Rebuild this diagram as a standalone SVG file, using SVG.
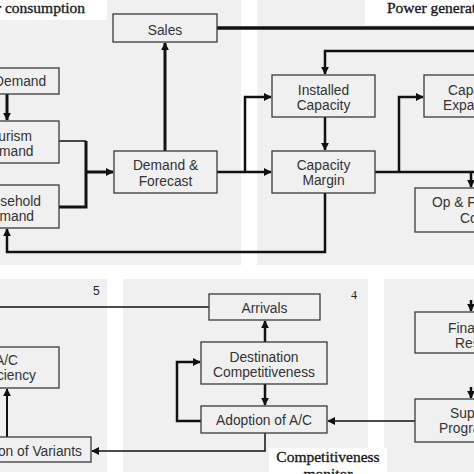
<svg xmlns="http://www.w3.org/2000/svg" width="474" height="474" viewBox="0 0 474 474">
<defs>
<style>
.panel{fill:#f0f0f0;stroke:none}
.box{fill:#f0f0f0;stroke:#3a3a3a;stroke-width:1.3}
.lbl{font-family:"Liberation Sans",Arial,sans-serif;font-size:13.8px;fill:#333}
.mid{text-anchor:middle}
.end{text-anchor:end}
.ttl{font-family:"Liberation Serif","Times New Roman",serif;font-size:15.5px;fill:#1a1a1a;stroke:#1a1a1a;stroke-width:0.35}
.thick{fill:none;stroke:#111;stroke-width:3}
.med{fill:none;stroke:#111;stroke-width:2.5}
.thin{fill:none;stroke:#111;stroke-width:1.5}
</style>
<marker id="ah" viewBox="0 0 10 10" refX="9" refY="5" markerWidth="8" markerHeight="8" markerUnits="userSpaceOnUse" orient="auto">
<path d="M0,0 L10,5 L0,10 z" fill="#111"/>
</marker>
</defs>
<rect width="474" height="474" fill="#ffffff"/>
<g id="panels">
<rect class="panel" x="0" y="0" width="241" height="265"/>
<rect fill="#ffffff" x="0" y="0" width="107" height="20"/>
<rect class="panel" x="257" y="0" width="217" height="265"/>
<rect fill="#ffffff" x="365" y="0" width="109" height="25"/>
<rect class="panel" x="0" y="279" width="107" height="193"/>
<rect class="panel" x="123" y="279" width="245" height="193"/>
<rect class="panel" x="384" y="279" width="90" height="193"/>
<rect fill="#ffffff" x="269" y="448" width="118" height="26"/>
</g>
<g id="titles">
<text class="ttl end" x="85" y="13">Power consumption</text>
<text class="ttl" x="387" y="13">Power generation</text>
<text class="ttl mid" x="328" y="462">Competitiveness</text>
<text class="ttl mid" x="328" y="479">monitor</text>
<text x="93" y="295" style="font-family:'Liberation Sans',Arial,sans-serif;font-size:12px;fill:#222">5</text>
<text x="351" y="299" style="font-family:'Liberation Serif',serif;font-size:12px;fill:#222">4</text>
</g>
<g id="connectors">
<path class="thick" d="M7,94 V120" marker-end="url(#ah)"/>
<path class="thin" d="M59,141 H86"/>
<path class="thick" d="M59,207 H86 M86,141 V208.5"/>
<path class="thick" d="M86,172 H113" marker-end="url(#ah)"/>
<path class="thick" d="M165,151 V43" marker-end="url(#ah)"/>
<path class="thick" d="M217,28 H474" style="stroke-width:3.5"/>
<path class="med" d="M217,172 H271" marker-end="url(#ah)"/>
<path class="med" d="M245,172 V97 H271" marker-end="url(#ah)"/>
<path class="med" d="M474,51 H325 V74" marker-end="url(#ah)"/>
<path class="med" d="M325,117 V150" marker-end="url(#ah)"/>
<path class="med" d="M375,172 H474"/>
<path class="med" d="M399,172 V97 H423" marker-end="url(#ah)"/>
<path class="med" d="M471,173 V187" marker-end="url(#ah)"/>
<path class="med" d="M325,193 V252 H7 V229" marker-end="url(#ah)"/>
<path class="thin" d="M209,307 H0"/>
<path class="med" d="M265,342 V321" marker-end="url(#ah)"/>
<path class="med" d="M265,384 V405" marker-end="url(#ah)"/>
<path class="med" d="M201,421 H177 V362 H200" marker-end="url(#ah)"/>
<path class="thin" d="M265,433 V451 H92" marker-end="url(#ah)"/>
<path class="med" d="M7,437 V389" marker-end="url(#ah)" style="stroke-width:2"/>
<path class="thin" d="M415,421 H328" marker-end="url(#ah)"/>
<path class="med" d="M471,300 V311" marker-end="url(#ah)"/>
<path class="med" d="M471,387 V398" marker-end="url(#ah)"/>
</g>
<g id="node-demand">
<rect class="box" x="-60" y="68" width="119" height="26"/>
<text class="lbl" x="-6" y="86">Demand</text>
</g>
<g id="node-tourism">
<rect class="box" x="-60" y="121" width="119" height="42"/>
<text class="lbl end" x="32" y="141">Tourism</text>
<text class="lbl end" x="33.5" y="156">Demand</text>
</g>
<g id="node-household">
<rect class="box" x="-60" y="185" width="119" height="43"/>
<text class="lbl end" x="41" y="206">Household</text>
<text class="lbl end" x="34" y="221">Demand</text>
</g>
<g id="node-sales">
<rect class="box" x="113" y="14" width="104" height="28"/>
<text class="lbl mid" x="165" y="35">Sales</text>
</g>
<g id="node-forecast">
<rect class="box" x="114" y="151" width="103" height="42"/>
<text class="lbl mid" x="165.5" y="170">Demand &amp;</text>
<text class="lbl mid" x="165.5" y="186">Forecast</text>
</g>
<g id="node-installed">
<rect class="box" x="272" y="75" width="103" height="42"/>
<text class="lbl mid" x="323.5" y="95">Installed</text>
<text class="lbl mid" x="323.5" y="110">Capacity</text>
</g>
<g id="node-margin">
<rect class="box" x="272" y="151" width="103" height="42"/>
<text class="lbl mid" x="323.5" y="170">Capacity</text>
<text class="lbl mid" x="323.5" y="185">Margin</text>
</g>
<g id="node-expansion">
<rect class="box" x="424" y="75" width="110" height="42"/>
<text class="lbl" x="448" y="95">Capacity</text>
<text class="lbl" x="443" y="110">Expansion</text>
</g>
<g id="node-opcosts">
<rect class="box" x="415" y="188" width="120" height="44"/>
<text class="lbl" x="432" y="207">Op &amp; Financial</text>
<text class="lbl" x="460" y="223">Costs</text>
</g>
<g id="node-efficiency">
<rect class="box" x="-50" y="347" width="109" height="41"/>
<text class="lbl end" x="18" y="365">A/C</text>
<text class="lbl end" x="36" y="380">Efficiency</text>
</g>
<g id="node-variants">
<rect class="box" x="-50" y="437" width="141" height="25"/>
<text class="lbl end" x="82" y="456">Adoption of Variants</text>
</g>
<g id="node-arrivals">
<rect class="box" x="209" y="294" width="111" height="26"/>
<text class="lbl mid" x="264.5" y="313">Arrivals</text>
</g>
<g id="node-destination">
<rect class="box" x="201" y="342" width="126" height="42"/>
<text class="lbl mid" x="264" y="362">Destination</text>
<text class="lbl mid" x="264" y="377">Competitiveness</text>
</g>
<g id="node-adoption">
<rect class="box" x="201" y="406" width="126" height="27"/>
<text class="lbl mid" x="264" y="425">Adoption of A/C</text>
</g>
<g id="node-financial">
<rect class="box" x="415" y="312" width="120" height="41"/>
<text class="lbl" x="448" y="333">Financial</text>
<text class="lbl" x="455" y="348">Resources</text>
</g>
<g id="node-support">
<rect class="box" x="415" y="399" width="120" height="43"/>
<text class="lbl" x="450" y="418">Support</text>
<text class="lbl" x="439" y="433">Programs</text>
</g>
</svg>
